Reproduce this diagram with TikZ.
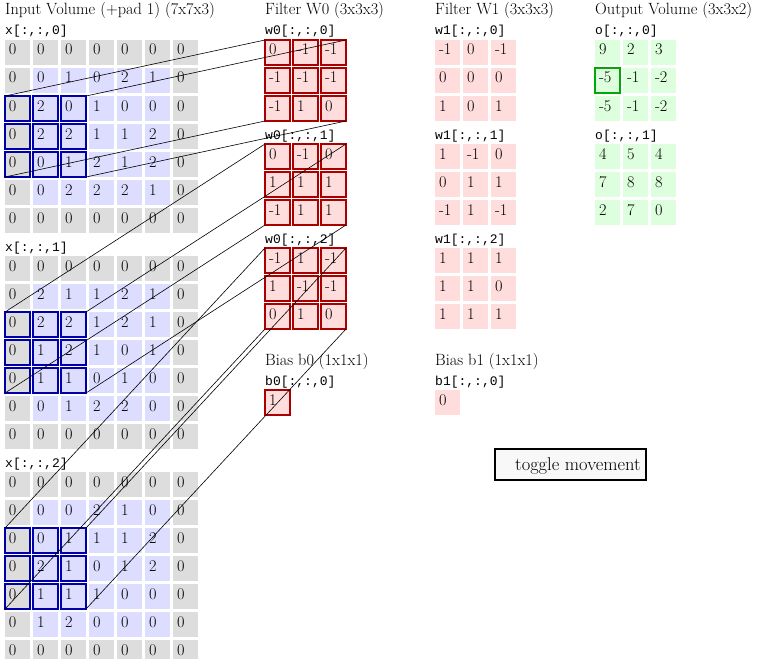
\documentclass[tikz,border=0pt]{standalone}
\usepackage{fontspec}
\setmonofont{Liberation Mono}
\definecolor{padc}{HTML}{DDDDDD}
\definecolor{inc}{HTML}{DDDDFF}
\definecolor{wc}{HTML}{FFDDDD}
\definecolor{oc}{HTML}{DDFFDD}
\definecolor{hlblue}{HTML}{0000AA}
\definecolor{hlred}{HTML}{AA0000}
\definecolor{hlgreen}{HTML}{00AA00}
\definecolor{btnbg}{HTML}{F8F8F8}
\newcommand\InSlice[3]{%
  \node[lab] (xl#1) at (5,#2-5) {x[:,:,#1]};
  \foreach \row [count=\r from 0] in {#3} {
    \foreach \val [count=\c from 0] in \row {
      \pgfmathtruncatemacro\pad{(\r==0)||(\r==6)||(\c==0)||(\c==6)}
      \pgfmathtruncatemacro\hl{(\r>=2)&&(\r<=4)&&(\c<=2)}
      \ifnum\pad=1 \def\fc{padc}\else\def\fc{inc}\fi
      \ifnum\hl=1 \def\hc{hlblue}\else\def\hc{none}\fi
      \node[cell,fill=\fc,draw=\hc] (x#1-\r-\c) at (5+28*\c,#2+28*\r) {\val};
    }
  }
}
\newcommand\SmallGrid[7]{%
  \foreach \row [count=\r from 0] in {#7} {
    \foreach \val [count=\c from 0] in \row {
      \pgfmathtruncatemacro\hl{#5}
      \ifnum\hl=1 \def\hc{#6}\else\def\hc{none}\fi
      \node[cell,fill=#4,draw=\hc] (#1-\r-\c) at (#2+28*\c,#3+28*\r) {\val};
    }
  }
}
\begin{document}
\begin{tikzpicture}[x=1pt,y=-1pt,
  every node/.style={font=\fontsize{16.3}{19}\selectfont, inner sep=0pt},
  cell/.style={anchor=north west, minimum width=25pt, minimum height=25pt,
    inner xsep=4pt, inner ysep=0pt, outer sep=0pt, text width=17pt, align=left,
    text height=10pt, text depth=5pt, line width=2pt},
  title/.style={anchor=base west},
  lab/.style={anchor=base west, font=\ttfamily\fontsize{13}{15}\selectfont},
  link/.style={line width=0.6pt, black}]
\clip (0,0) rectangle (775,658);
% titles
\node[title] (tin) at (5,15) {Input Volume (+pad 1) (7x7x3)};
\node[title] (tw0) at (265,15) {Filter W0 (3x3x3)};
\node[title] (tw1) at (435,15) {Filter W1 (3x3x3)};
\node[title] (tout) at (595,15) {Output Volume (3x3x2)};
% input volume
\InSlice{0}{40}{{0,0,0,0,0,0,0},{0,0,1,0,2,1,0},{0,2,0,1,0,0,0},{0,2,2,1,1,2,0},{0,0,1,2,1,2,0},{0,0,2,2,2,1,0},{0,0,0,0,0,0,0}}
\InSlice{1}{256}{{0,0,0,0,0,0,0},{0,2,1,1,2,1,0},{0,2,2,1,2,1,0},{0,1,2,1,0,1,0},{0,1,1,0,1,0,0},{0,0,1,2,2,0,0},{0,0,0,0,0,0,0}}
\InSlice{2}{472}{{0,0,0,0,0,0,0},{0,0,0,2,1,0,0},{0,0,1,1,1,2,0},{0,2,1,0,1,2,0},{0,1,1,1,0,0,0},{0,1,2,0,0,0,0},{0,0,0,0,0,0,0}}
% filter W0
\node[lab] (lw00) at (265,35) {w0[:,:,0]};
\SmallGrid{w0s0}{265}{40}{wc}{1}{hlred}{{0,-1,-1},{-1,-1,-1},{-1,1,0}}
\node[lab] (lw01) at (265,139) {w0[:,:,1]};
\SmallGrid{w0s1}{265}{144}{wc}{1}{hlred}{{0,-1,0},{1,1,1},{-1,1,1}}
\node[lab] (lw02) at (265,243) {w0[:,:,2]};
\SmallGrid{w0s2}{265}{248}{wc}{1}{hlred}{{-1,1,-1},{1,-1,-1},{0,1,0}}
\node[title] (tb0) at (265,365) {Bias b0 (1x1x1)};
\node[lab] (lb0) at (265,385) {b0[:,:,0]};
\SmallGrid{b0}{265}{390}{wc}{1}{hlred}{{1}}
% filter W1
\node[lab] (lw10) at (435,35) {w1[:,:,0]};
\SmallGrid{w1s0}{435}{40}{wc}{0}{none}{{-1,0,-1},{0,0,0},{1,0,1}}
\node[lab] (lw11) at (435,139) {w1[:,:,1]};
\SmallGrid{w1s1}{435}{144}{wc}{0}{none}{{1,-1,0},{0,1,1},{-1,1,-1}}
\node[lab] (lw12) at (435,243) {w1[:,:,2]};
\SmallGrid{w1s2}{435}{248}{wc}{0}{none}{{1,1,1},{1,1,0},{1,1,1}}
\node[title] (tb1) at (435,365) {Bias b1 (1x1x1)};
\node[lab] (lb1) at (435,385) {b1[:,:,0]};
\SmallGrid{b1}{435}{390}{wc}{0}{none}{{0}}
% output
\node[lab] (lo0) at (595,35) {o[:,:,0]};
\SmallGrid{o0}{595}{40}{oc}{(\r==1)&&(\c==0)}{hlgreen}{{9,2,3},{-5,-1,-2},{-5,-1,-2}}
\node[lab] (lo1) at (595,139) {o[:,:,1]};
\SmallGrid{o1}{595}{144}{oc}{0}{none}{{4,5,4},{7,8,8},{2,7,0}}
% button
\node[draw=black, line width=2pt, fill=btnbg, anchor=north west, minimum width=151pt,
  minimum height=31pt, outer sep=0pt] (btn) at (495,449) {};
\node[title, font=\fontsize{18.5}{21}\selectfont] (btntext) at (515,470) {toggle movement};
% connectors
\foreach \k in {0,1,2} {
  \draw[link] (x\k-2-0.north west) -- (w0s\k-0-0.north west);
  \draw[link] (x\k-2-2.north east) -- (w0s\k-0-2.north east);
  \draw[link] (x\k-4-0.south west) -- (w0s\k-2-0.south west);
  \draw[link] (x\k-4-2.south east) -- (w0s\k-2-2.south east);
}
\end{tikzpicture}
\end{document}
